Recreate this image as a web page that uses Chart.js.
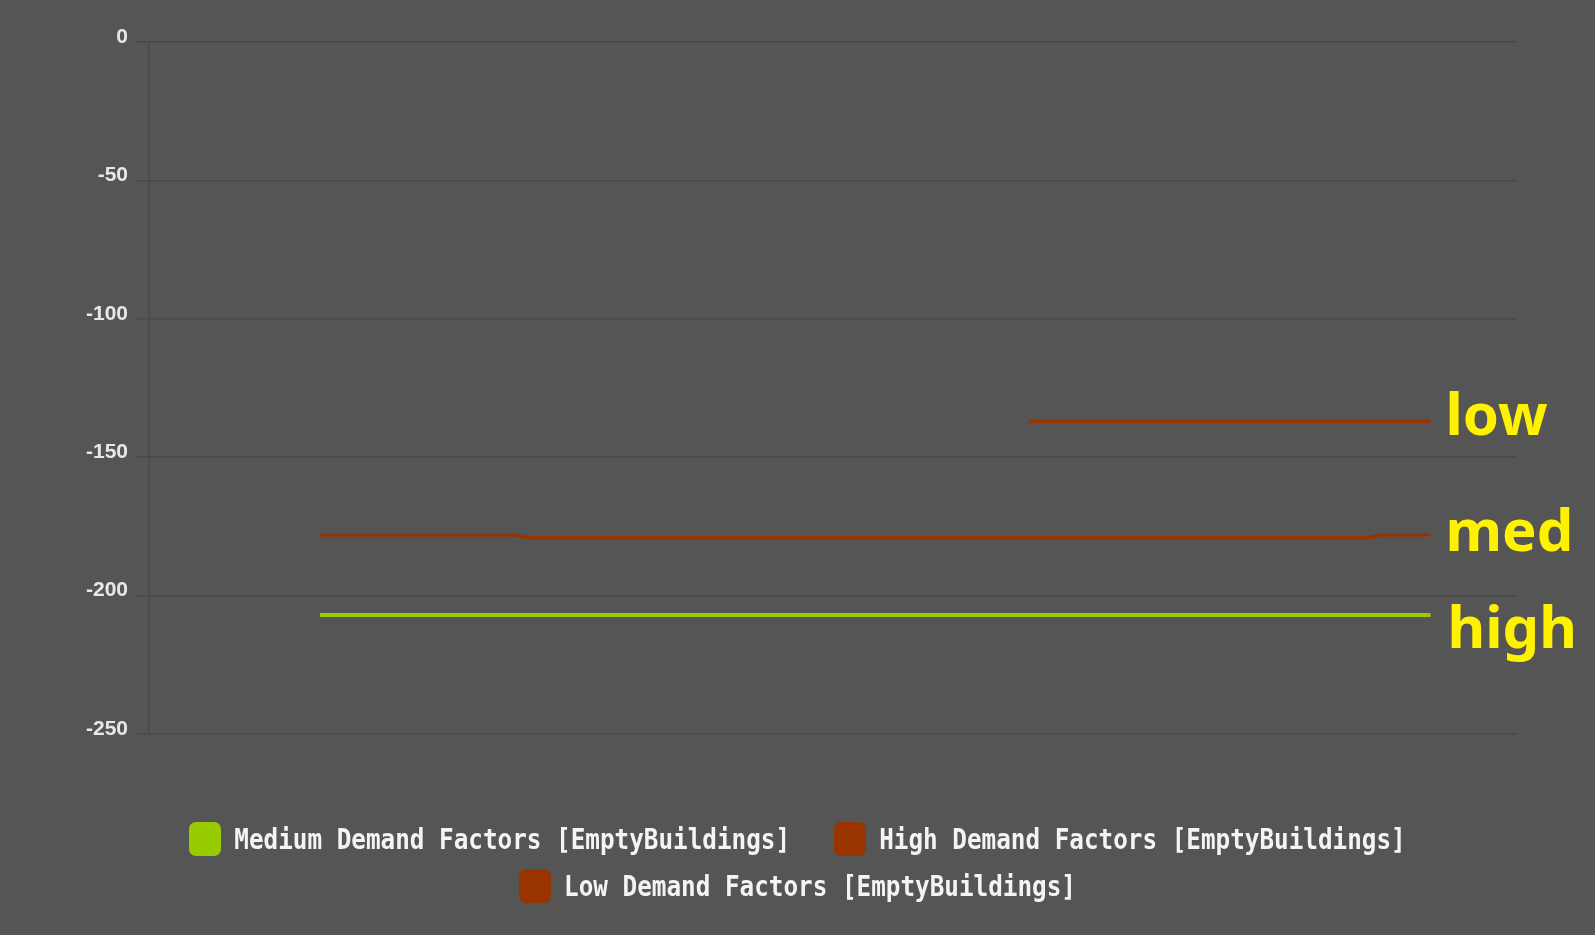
<!DOCTYPE html>
<html>
<head>
<meta charset="utf-8">
<script src="https://cdn.jsdelivr.net/npm/chart.js@4/dist/chart.umd.min.js"></script>
<style>
    body { margin: 0; background: #555555; }
    #wrap { position: relative; width: 1595px; height: 935px; }
    #legend {
        position: absolute; left: 0; top: 822px; width: 1595px;
        display: flex; flex-wrap: wrap; justify-content: center; row-gap: 13px;
        font-family: "DejaVu Sans Mono", monospace; font-weight: bold; font-size: 24.3px;
        color: #f4f4f4;
    }
    .item { display: flex; align-items: center; margin: 0 22px; height: 34px; }
    .box { width: 32px; height: 34px; border-radius: 7px; margin-right: 13px; }
    .txt { display: inline-block; transform: scaleY(1.13); white-space: pre; }
</style>
</head>
<body>
<div id="wrap">
    <canvas id="demand-chart"></canvas>
    <div id="legend"></div>
</div>
<script>
// Series labels and colours
var seriesNames = ['Medium Demand Factors [EmptyBuildings]', 'High Demand Factors [EmptyBuildings]', 'Low Demand Factors [EmptyBuildings]'];
var seriesColors = ['#99cc00', '#993300', '#993300'];
var seriesTags = ['high', 'med', 'low'];

// Values (x is just the sample position)
var mediumX = [20, 150];
var mediumY = [-207, -207];
var highX = [20, 43, 44, 143, 144, 150];
var highY = [-178, -178, -179, -179, -178, -178];
var lowX = [103, 150];
var lowY = [-137, -137];

// y axis ticks
var yMin = -250;
var yMax = 0;
var yStep = 50;

function toPoints(xs, ys) {
    var pts = [];
    for (var i = 0; i < xs.length; i++) {
        pts.push({ x: xs[i], y: ys[i] });
    }
    return pts;
}

var seriesData = [toPoints(mediumX, mediumY), toPoints(highX, highY), toPoints(lowX, lowY)];

var datasets = [];
for (var i = 0; i < seriesNames.length; i++) {
    datasets.push({
        label: seriesNames[i],
        data: seriesData[i],
        borderColor: seriesColors[i],
        backgroundColor: seriesColors[i],
        borderWidth: i == 0 ? 4 : 3.5,
        pointRadius: 0,
        tension: 0,
        fill: false,
        tag: seriesTags[i]
    });
}

// Yellow notes at the end of each line
var tagPlugin = {
    id: 'endTags',
    afterDatasetsDraw: function(chart, args, opts) {
        var ctx = chart.ctx;
        ctx.save();
        ctx.fillStyle = opts.color;
        ctx.font = opts.font;
        ctx.textBaseline = 'alphabetic';
        chart.data.datasets.forEach(function(ds, i) {
            var meta = chart.getDatasetMeta(i);
            var last = meta.data[meta.data.length - 1];
            ctx.fillText(ds.tag, last.x + opts.dx[i], last.y + opts.dy[i]);
        });
        ctx.restore();
    }
};

var ctx = document.getElementById('demand-chart').getContext('2d');
window.demandChart = new Chart(ctx, {
    type: 'line',
    data: { datasets: datasets },
    options: {
        responsive: true,
        maintainAspectRatio: false,
        animation: false,
        layout: { padding: { left: 0, right: 79, top: 42, bottom: 201 } },
        plugins: {
            legend: { display: false },
            tooltip: { enabled: false },
            endTags: {
                color: '#fff200',
                font: 'bold 58px "Noto Sans", "Open Sans", sans-serif',
                dx: [17, 15, 15],
                dy: [33, 16, 14]
            }
        },
        scales: {
            x: {
                type: 'linear',
                min: 0,
                max: 160,
                display: false
            },
            y: {
                min: yMin,
                max: yMax,
                afterFit: function(scale) { scale.width = 149; },
                grid: { color: '#494949', lineWidth: 1.5, tickLength: 13 },
                border: { display: true, color: '#494949', width: 1.5 },
                ticks: {
                    stepSize: yStep,
                    padding: 8,
                    labelOffset: -5,
                    color: '#e8e8e8',
                    font: { family: '"Liberation Sans", Arial, sans-serif', size: 21, weight: 'bold' }
                }
            }
        }
    },
    plugins: [tagPlugin]
});

// Legend built by hand so the spacing matches
var legend = document.getElementById('legend');
for (var j = 0; j < seriesNames.length; j++) {
    var item = document.createElement('div');
    item.className = 'item';
    var box = document.createElement('span');
    box.className = 'box';
    box.style.background = seriesColors[j];
    var txt = document.createElement('span');
    txt.className = 'txt';
    txt.textContent = seriesNames[j];
    item.appendChild(box);
    item.appendChild(txt);
    legend.appendChild(item);
}
</script>
</body>
</html>
